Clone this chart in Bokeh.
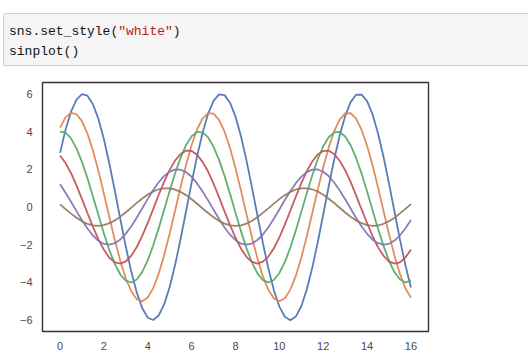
from bokeh.plotting import figure
from bokeh.models import Div, FixedTicker, ColumnDataSource
from bokeh.layouts import column
from bokeh.embed import file_html
from bokeh.resources import INLINE

# sample positions along x
x = [0.0, 0.25, 0.5, 0.75, 1.0, 1.25, 1.5, 1.75, 2.0, 2.25, 2.5, 2.75,
     3.0, 3.25, 3.5, 3.75, 4.0, 4.25, 4.5, 4.75, 5.0, 5.25, 5.5, 5.75,
     6.0, 6.25, 6.5, 6.75, 7.0, 7.25, 7.5, 7.75, 8.0, 8.25, 8.5, 8.75,
     9.0, 9.25, 9.5, 9.75, 10.0, 10.25, 10.5, 10.75, 11.0, 11.25, 11.5, 11.75,
     12.0, 12.25, 12.5, 12.75, 13.0, 13.25, 13.5, 13.75, 14.0, 14.25, 14.5, 14.75,
     15.0, 15.25, 15.5, 15.75, 16.0]

blue = [2.87, 4.09, 5.05, 5.69, 5.98, 5.90, 5.45, 4.67, 3.59, 2.29,
        0.85, -0.65, -2.11, -3.43, -4.54, -5.37, -5.87, -5.99, -5.75, -5.15,
        -4.24, -3.05, -1.67, -0.20, 1.29, 2.70, 3.94, 4.94, 5.63, 5.97,
        5.93, 5.53, 4.79, 3.75, 2.47, 1.04, -0.45, -1.92, -3.26, -4.41,
        -5.28, -5.82, -6.00, -5.81, -5.26, -4.37, -3.22, -1.87, -0.40, 1.10,
        2.52, 3.79, 4.82, 5.56, 5.95, 5.96, 5.61, 4.91, 3.90, 2.65,
        1.24, -0.25, -1.73, -3.10, -4.27]
orange = [4.21, 4.75, 4.99, 4.92, 4.55, 3.89, 2.99, 1.91, 0.71, -0.54,
          -1.76, -2.86, -3.79, -4.48, -4.89, -5.00, -4.80, -4.30, -3.53, -2.54,
          -1.40, -0.17, 1.08, 2.25, 3.29, 4.12, 4.69, 4.98, 4.95, 4.61,
          3.99, 3.13, 2.06, 0.87, -0.38, -1.60, -2.72, -3.68, -4.40, -4.85,
          -5.00, -4.84, -4.38, -3.65, -2.69, -1.56, -0.33, 0.92, 2.10, 3.16,
          4.02, 4.63, 4.96, 4.97, 4.68, 4.09, 3.25, 2.21, 1.03, -0.21,
          -1.44, -2.58, -3.56, -4.32, -4.81]
green = [3.99, 3.94, 3.64, 3.11, 2.39, 1.53, 0.56, -0.43, -1.40, -2.29,
         -3.03, -3.58, -3.91, -4.00, -3.84, -3.44, -2.82, -2.03, -1.12, -0.13,
         0.86, 1.80, 2.63, 3.29, 3.75, 3.98, 3.96, 3.69, 3.19, 2.50,
         1.65, 0.70, -0.30, -1.28, -2.18, -2.94, -3.52, -3.88, -4.00, -3.87,
         -3.50, -2.92, -2.15, -1.24, -0.26, 0.73, 1.68, 2.53, 3.22, 3.70,
         3.96, 3.98, 3.74, 3.27, 2.60, 1.77, 0.82, -0.17, -1.15, -2.06,
         -2.85, -3.46, -3.84, -4.00, -3.90]
red = [2.73, 2.33, 1.79, 1.15, 0.42, -0.32, -1.05, -1.72, -2.27, -2.69,
       -2.93, -3.00, -2.88, -2.58, -2.12, -1.52, -0.84, -0.10, 0.65, 1.35,
       1.97, 2.47, 2.81, 2.99, 2.97, 2.77, 2.39, 1.88, 1.24, 0.52,
       -0.23, -0.96, -1.63, -2.21, -2.64, -2.91, -3.00, -2.90, -2.63, -2.19,
       -1.61, -0.93, -0.20, 0.55, 1.26, 1.90, 2.41, 2.78, 2.97, 2.98,
       2.81, 2.45, 1.95, 1.33, 0.62, -0.13, -0.86, -1.55, -2.14, -2.59,
       -2.88, -3.00, -2.93, -2.67, -2.25]
purple = [1.20, 0.76, 0.28, -0.22, -0.70, -1.14, -1.51, -1.79, -1.96, -2.00,
          -1.92, -1.72, -1.41, -1.02, -0.56, -0.07, 0.43, 0.90, 1.31, 1.65,
          1.88, 1.99, 1.98, 1.84, 1.60, 1.25, 0.82, 0.35, -0.15, -0.64,
          -1.09, -1.47, -1.76, -1.94, -2.00, -1.94, -1.75, -1.46, -1.07, -0.62,
          -0.13, 0.37, 0.84, 1.26, 1.61, 1.85, 1.98, 1.99, 1.87, 1.64,
          1.30, 0.88, 0.41, -0.08, -0.58, -1.03, -1.42, -1.73, -1.92, -2.00,
          -1.95, -1.78, -1.50, -1.13, -0.69]
brown = [0.14, -0.11, -0.35, -0.57, -0.76, -0.90, -0.98, -1.00, -0.96, -0.86,
         -0.71, -0.51, -0.28, -0.03, 0.22, 0.45, 0.66, 0.82, 0.94, 0.99,
         0.99, 0.92, 0.80, 0.63, 0.41, 0.17, -0.08, -0.32, -0.54, -0.74,
         -0.88, -0.97, -1.00, -0.97, -0.88, -0.73, -0.54, -0.31, -0.07, 0.18,
         0.42, 0.63, 0.80, 0.93, 0.99, 0.99, 0.94, 0.82, 0.65, 0.44,
         0.21, -0.04, -0.29, -0.52, -0.71, -0.86, -0.96, -1.00, -0.98, -0.89,
         -0.75, -0.57, -0.34, -0.10, 0.15]

series = [blue, orange, green, red, purple, brown]
colors = ["#4C72B0", "#DD8452", "#55A868", "#C44E52", "#8172B3", "#937860"]

x_ticks = [0, 2, 4, 6, 8, 10, 12, 14, 16]
y_ticks = [-6, -4, -2, 0, 2, 4, 6]
y_labels = ["\u22126", "\u22124", "\u22122", "0", "2", "4", "6"]

for s in series:
    assert len(s) == len(x), len(s)

line_style = "height:20px; line-height:20px; white-space:pre;"
code_html = (
    '<div style="margin:13px 0 0 3px; width:540px; height:53px; background:#f5f5f5; '
    'border:1px solid #cfcfcf; border-radius:2px; box-sizing:border-box; '
    'padding:8px 0 0 5px; font-family:\'Liberation Mono\', monospace; '
    'font-size:13px; color:#111;">'
    f'<div style="{line_style}"><span>sns.set_style(</span>'
    '<span style="color:#BA2121">"white"</span><span>)</span></div>'
    f'<div style="{line_style}"><span>sinplot()</span></div>'
    '</div>'
)
code = Div(text=code_html, width=528, height=70, margin=0,
           styles={"overflow": "hidden"})

p = figure(width=528, height=294, output_backend="svg", toolbar_location=None,
           x_range=(-0.8, 16.8), y_range=(-6.6, 6.6),
           min_border_top=12, min_border_bottom=33, min_border_left=42,
           min_border_right=100, margin=0)

src = ColumnDataSource(dict(x=x, blue=blue, orange=orange, green=green,
                            red=red, purple=purple, brown=brown))
for name, c in zip(["blue", "orange", "green", "red", "purple", "brown"], colors):
    p.line("x", name, source=src, line_color=c, line_width=1.8, line_alpha=0.92)

p.xgrid.visible = False
p.ygrid.visible = False
p.outline_line_color = "#333333"
p.outline_line_width = 1.4
p.background_fill_color = "white"
p.border_fill_color = "white"

p.xaxis.ticker = FixedTicker(ticks=x_ticks)
p.yaxis.ticker = FixedTicker(ticks=y_ticks)
p.yaxis.major_label_overrides = {float(t): l for t, l in zip(y_ticks, y_labels)}
for ax in (p.xaxis[0], p.yaxis[0]):
    ax.axis_line_color = None
    ax.major_tick_line_color = None
    ax.minor_tick_line_color = None
    ax.major_tick_out = 0
    ax.major_tick_in = 0
    ax.minor_tick_out = 0
    ax.major_label_text_font = "Liberation Sans"
    ax.major_label_text_font_size = "11px"
    ax.major_label_text_color = "#4a4a4a"
p.xaxis.major_label_standoff = 10
p.yaxis.major_label_standoff = 10

layout = column(code, p, spacing=0, margin=0)
open("out.html", "w").write(file_html(layout, INLINE))
